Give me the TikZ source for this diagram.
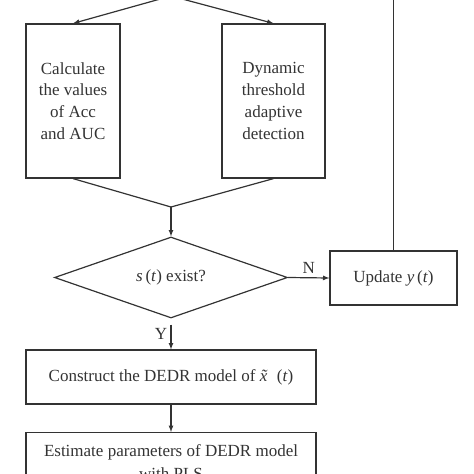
\documentclass[tikz,border=0pt]{standalone}
\usepackage{fontspec}
\setmainfont{Liberation Serif}
\usetikzlibrary{shapes.geometric}
\definecolor{linegray}{HTML}{333333}
\tikzset{
  box/.style={draw=linegray, line width=1.2pt, align=center, inner sep=0pt},
  decision/.style={draw=linegray, line width=1.2pt, diamond, aspect=2.9, inner sep=0pt},
  flow/.style={draw=linegray, line width=1.2pt}
}
\begin{document}
\begin{tikzpicture}[x=1pt, y=-1pt, font=\fontsize{17}{21.7}\selectfont, text=linegray]
        % Marco
        \useasboundingbox (0,0) rectangle (474,474);
        \clip (0,0) rectangle (474,474);

        % Puntos auxiliares
        \coordinate (src) at (171,-4);
        \coordinate (back) at (393.5,-6);
        \coordinate (join) at (171,207);

        % Cajas
        \node[box, minimum width=94pt, minimum height=154pt] (calc) at (73,101)
            {Calculate\\the values\\of Acc\\and AUC};
        \node[box, minimum width=103pt, minimum height=154pt] (dyn) at (273.5,101)
            {Dynamic\\threshold\\adaptive\\detection};
        \node[decision, minimum width=233pt, minimum height=81pt] (exist) at (171,277.5)
            {\textit{s}\,(\textit{t}) exist?};
        \node[box, minimum width=127pt, minimum height=54pt] (upd) at (393.5,278)
            {Update \textit{y}\,(\textit{t})};
        \node[box, minimum width=290pt, minimum height=54pt] (cons) at (171,377)
            {Construct the DEDR model of \textit{\~{x}}\,(\textit{t})};
        \node[box, minimum width=290pt, minimum height=70pt, anchor=north, inner ysep=12pt] (est) at (171,432)
            {Estimate parameters of DEDR model\\[1pt]with PLS\\[16pt]};

        % Flechas
        \draw[flow, -latex] (src) -- (calc.north);
        \draw[flow, -latex] (src) -- (dyn.north);
        \draw[flow] (calc.south) -- (join) -- (dyn.south);
        \draw[flow, -latex] (join) -- (exist.north);
        \draw[flow, -latex] (exist.east) -- node[above] {N} (upd.west);
        \draw[flow] (upd.north) -- (back);
        \draw[flow, -latex, shorten <=6pt] (exist.south) -- node[left] {Y} (cons.north);
        \draw[flow, -latex] (cons.south) -- (est.north);
    \end{tikzpicture}
\end{document}
